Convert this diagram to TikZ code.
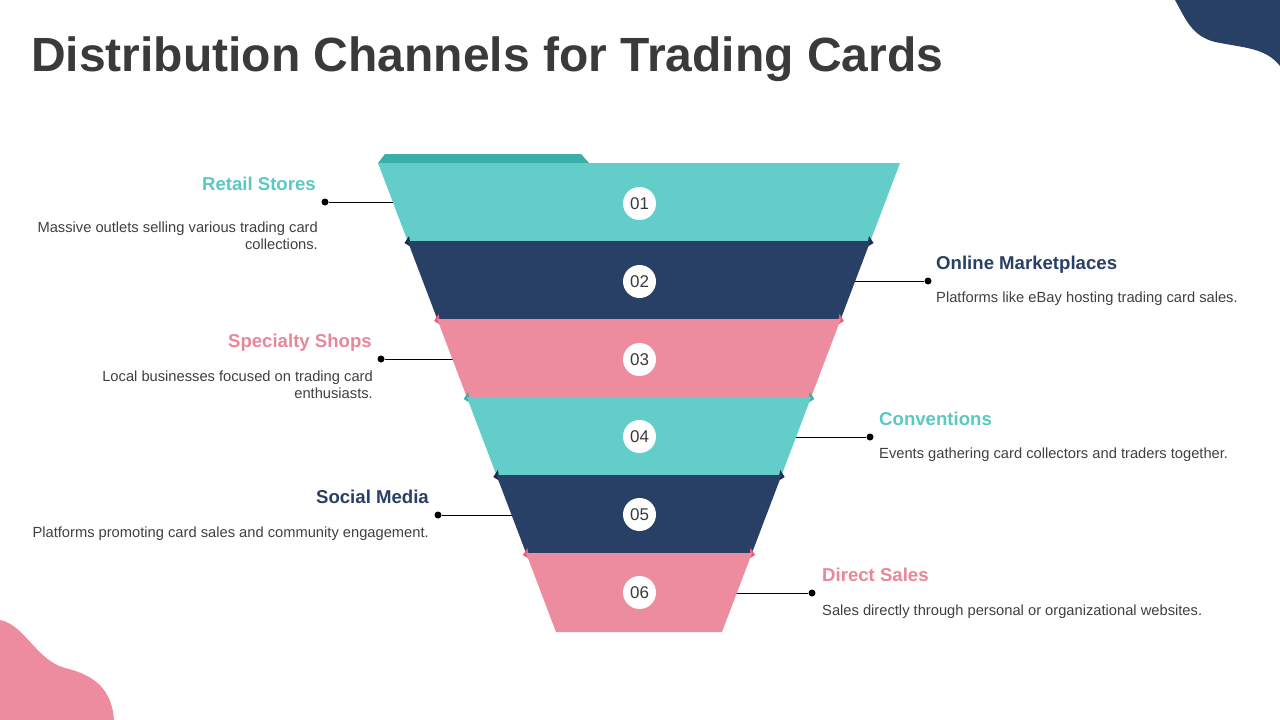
\documentclass[tikz,border=0pt]{standalone}
\usepackage{fontspec}
\setmainfont{Liberation Sans}
\definecolor{fteal}{HTML}{62CDC9}
\definecolor{ftealdark}{HTML}{3AAFA9}
\definecolor{fnavy}{HTML}{283F66}
\definecolor{fnavydark}{HTML}{1B2C4A}
\definecolor{fpink}{HTML}{EE8C9F}
\definecolor{fpinkdark}{HTML}{E5607A}
\definecolor{titlegray}{HTML}{3A3A3A}
\definecolor{descgray}{HTML}{404040}
\definecolor{lteal}{HTML}{5CC8C4}
\definecolor{lpink}{HTML}{E8879A}
\begin{document}
\begin{tikzpicture}[x=1pt,y=-1pt,
  head/.style={font=\fontsize{18.6}{22}\selectfont\bfseries, inner sep=0pt},
  desc/.style={font=\fontsize{14.7}{17}\selectfont, text=descgray, inner sep=0pt},
  numcirc/.style={circle, fill=white, minimum size=33pt, inner sep=0pt, font=\fontsize{17}{17}\selectfont, text=titlegray},
  conn/.style={black, line width=1pt},
  dotc/.style={circle, fill=black, minimum size=7pt, inner sep=0pt}
]
\useasboundingbox (0,0) rectangle (1280,720);
\fill[white] (0,0) rectangle (1280,720);
% decorative blobs
\fill[fnavy] (1175,0) .. controls (1186,20) and (1192,36) .. (1215,42) .. controls (1245,48) and (1266,48) .. (1280,66) -- (1280,0) -- cycle;
\fill[fpink] (0,620) .. controls (25,625) and (36,660) .. (65,668) .. controls (95,675) and (112,690) .. (114,720) -- (0,720) -- cycle;
% title
\node[anchor=base west, inner sep=0pt, text=titlegray, font=\fontsize{48}{56}\selectfont\bfseries] (title) at (31,71) {Distribution Channels for Trading Cards};
% edge coordinates
\coordinate (e1) at (398,202);
\coordinate (e2) at (850,281);
\coordinate (e3) at (457,359);
\coordinate (e4) at (791,437);
\coordinate (e5) at (516,515);
\coordinate (e6) at (732,593);
% dots
\node[dotc] (d1) at (325,202) {};
\node[dotc] (d2) at (928,281) {};
\node[dotc] (d3) at (381,359) {};
\node[dotc] (d4) at (870,437) {};
\node[dotc] (d5) at (438,515) {};
\node[dotc] (d6) at (812,593) {};
% connectors
\draw[conn] (d1) -- (e1);
\draw[conn] (d2) -- (e2);
\draw[conn] (d3) -- (e3);
\draw[conn] (d4) -- (e4);
\draw[conn] (d5) -- (e5);
\draw[conn] (d6) -- (e6);
% funnel
\fill[ftealdark] (378,163) -- (385,154) -- (581,154) -- (589,163) -- cycle;
\fill[fteal] (378,163) -- (900,163) -- (870.4,241) -- (407.6,241) -- cycle;
\fill[fnavydark] (404.5,243) -- (409,236) -- (411,247) -- cycle;
\fill[fnavydark] (873.5,243) -- (869,236) -- (867,247) -- cycle;
\fill[fnavy] (407.6,241) -- (870.4,241) -- (840.8,319) -- (437.2,319) -- cycle;
\fill[fpinkdark] (434.1,321) -- (438.6,314) -- (440.6,325) -- cycle;
\fill[fpinkdark] (843.9,321) -- (839.4,314) -- (837.4,325) -- cycle;
\fill[fpink] (437.2,319) -- (840.8,319) -- (811.2,397) -- (466.8,397) -- cycle;
\fill[ftealdark] (463.7,399) -- (468.2,392) -- (470.2,403) -- cycle;
\fill[ftealdark] (814.3,399) -- (809.8,392) -- (807.8,403) -- cycle;
\fill[fteal] (466.8,397) -- (811.2,397) -- (781.6,475) -- (496.4,475) -- cycle;
\fill[fnavydark] (493.3,477) -- (497.8,470) -- (499.8,481) -- cycle;
\fill[fnavydark] (784.7,477) -- (780.2,470) -- (778.2,481) -- cycle;
\fill[fnavy] (496.4,475) -- (781.6,475) -- (752,553) -- (526,553) -- cycle;
\fill[fpinkdark] (522.9,555) -- (527.4,548) -- (529.4,559) -- cycle;
\fill[fpinkdark] (755.1,555) -- (750.6,548) -- (748.6,559) -- cycle;
\fill[fpink] (526,553) -- (752,553) -- (722,632) -- (556,632) -- cycle;
% numbers
\node[numcirc] (n1) at (639.5,203.5) {01};
\node[numcirc] (n2) at (639.5,281.5) {02};
\node[numcirc] (n3) at (639.5,359.5) {03};
\node[numcirc] (n4) at (639.5,436.5) {04};
\node[numcirc] (n5) at (639.5,514.5) {05};
\node[numcirc] (n6) at (639.5,592.5) {06};
% labels
\node[head, text=lteal, anchor=base east] (h1) at (316,190) {Retail Stores};
\node[desc, anchor=base east, align=right] (t1) at (318,249.5) {Massive outlets selling various trading card\\collections.};
\node[head, text=fnavy, anchor=base west] (h2) at (936,269) {Online Marketplaces};
\node[desc, anchor=base west] (t2) at (936,302.5) {Platforms like eBay hosting trading card sales.};
\node[head, text=lpink, anchor=base east] (h3) at (372,347) {Specialty Shops};
\node[desc, anchor=base east, align=right] (t3) at (373,398.5) {Local businesses focused on trading card\\enthusiasts.};
\node[head, text=lteal, anchor=base west] (h4) at (879,425) {Conventions};
\node[desc, anchor=base west] (t4) at (879,458.5) {Events gathering card collectors and traders together.};
\node[head, text=fnavy, anchor=base east] (h5) at (429,503) {Social Media};
\node[desc, anchor=base east] (t5) at (429,537.5) {Platforms promoting card sales and community engagement.};
\node[head, text=lpink, anchor=base west] (h6) at (822,581) {Direct Sales};
\node[desc, anchor=base west] (t6) at (822,615.5) {Sales directly through personal or organizational websites.};
\end{tikzpicture}
\end{document}
